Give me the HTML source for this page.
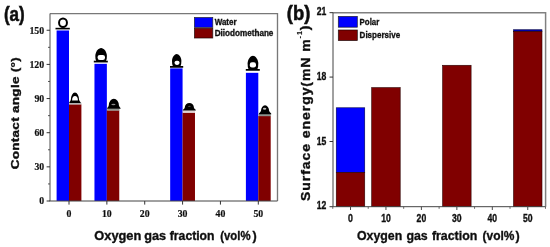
<!DOCTYPE html><html><head><meta charset="utf-8"><title>chart</title>
<style>html,body{margin:0;padding:0;background:#fff;overflow:hidden}svg{display:block}.s{font-family:"Liberation Sans",sans-serif;font-weight:bold;fill:#111;stroke:#111;stroke-width:.35px}.t{font-family:"Liberation Serif",serif;font-weight:bold;fill:#111;stroke:#111;stroke-width:.2px}</style></head><body>
<svg width="550" height="247" viewBox="0 0 550 247">
<defs><filter id="b" x="-5%" y="-5%" width="110%" height="110%"><feGaussianBlur stdDeviation="0.58"/></filter></defs>
<rect width="550" height="247" fill="#fff"/>
<g filter="url(#b)">
<rect x="56.60" y="30.48" width="12.40" height="170.52" fill="#0000ff"/>
<rect x="94.46" y="63.83" width="12.40" height="137.17" fill="#0000ff"/>
<rect x="170.18" y="68.39" width="12.40" height="132.61" fill="#0000ff"/>
<rect x="245.90" y="72.83" width="12.40" height="128.17" fill="#0000ff"/>
<rect x="69.00" y="104.36" width="12.40" height="96.64" fill="#800000"/>
<rect x="106.86" y="110.33" width="12.40" height="90.67" fill="#800000"/>
<rect x="182.58" y="112.55" width="12.40" height="88.45" fill="#800000"/>
<rect x="258.30" y="115.97" width="12.40" height="85.03" fill="#800000"/>
<path d="M50.0 13.6H277.5V201.0" fill="none" stroke="#787878" stroke-width="1.35"/>
<path d="M50.0 13.6V201.0" fill="none" stroke="#6a6a6a" stroke-width="1.2"/>
<path d="M49.5 201.0H277.5" fill="none" stroke="#444" stroke-width="1"/>
<path d="M46.6 201.00H50.0" stroke="#333" stroke-width="1"/>
<text class="t" x="39.30" y="204.30" font-size="10.8" textLength="4.9" lengthAdjust="spacingAndGlyphs">0</text>
<path d="M46.6 166.85H50.0" stroke="#333" stroke-width="1"/>
<text class="t" x="34.40" y="170.15" font-size="10.8" textLength="9.8" lengthAdjust="spacingAndGlyphs">30</text>
<path d="M46.6 132.70H50.0" stroke="#333" stroke-width="1"/>
<text class="t" x="34.40" y="136.00" font-size="10.8" textLength="9.8" lengthAdjust="spacingAndGlyphs">60</text>
<path d="M46.6 98.55H50.0" stroke="#333" stroke-width="1"/>
<text class="t" x="34.40" y="101.85" font-size="10.8" textLength="9.8" lengthAdjust="spacingAndGlyphs">90</text>
<path d="M46.6 64.40H50.0" stroke="#333" stroke-width="1"/>
<text class="t" x="29.40" y="67.70" font-size="10.8" textLength="14.8" lengthAdjust="spacingAndGlyphs">120</text>
<path d="M46.6 30.25H50.0" stroke="#333" stroke-width="1"/>
<text class="t" x="29.40" y="33.55" font-size="10.8" textLength="14.8" lengthAdjust="spacingAndGlyphs">150</text>
<path d="M48.0 183.93H50.0" stroke="#444" stroke-width="0.9"/>
<path d="M48.0 149.78H50.0" stroke="#444" stroke-width="0.9"/>
<path d="M48.0 115.63H50.0" stroke="#444" stroke-width="0.9"/>
<path d="M48.0 81.48H50.0" stroke="#444" stroke-width="0.9"/>
<path d="M48.0 47.33H50.0" stroke="#444" stroke-width="0.9"/>
<path d="M69.00 201.0V204.6" stroke="#333" stroke-width="1"/>
<text class="t" x="66.55" y="216.6" font-size="10.8" textLength="4.9" lengthAdjust="spacingAndGlyphs">0</text>
<path d="M106.86 201.0V204.6" stroke="#333" stroke-width="1"/>
<text class="t" x="101.96" y="216.6" font-size="10.8" textLength="9.8" lengthAdjust="spacingAndGlyphs">10</text>
<path d="M144.72 201.0V204.6" stroke="#333" stroke-width="1"/>
<text class="t" x="139.82" y="216.6" font-size="10.8" textLength="9.8" lengthAdjust="spacingAndGlyphs">20</text>
<path d="M182.58 201.0V204.6" stroke="#333" stroke-width="1"/>
<text class="t" x="177.68" y="216.6" font-size="10.8" textLength="9.8" lengthAdjust="spacingAndGlyphs">30</text>
<path d="M220.44 201.0V204.6" stroke="#333" stroke-width="1"/>
<text class="t" x="215.54" y="216.6" font-size="10.8" textLength="9.8" lengthAdjust="spacingAndGlyphs">40</text>
<path d="M258.30 201.0V204.6" stroke="#333" stroke-width="1"/>
<text class="t" x="253.40" y="216.6" font-size="10.8" textLength="9.8" lengthAdjust="spacingAndGlyphs">50</text>
<ellipse cx="63" cy="22.7" rx="3.95" ry="4.3" fill="#fff" stroke="#000" stroke-width="2"/>
<rect x="55.5" y="27.8" width="14.3" height="1.6" fill="#000"/>
<path d="M95.30 56.00C95.30 51.60 98.66 48.00 101.10 48.00C103.54 48.00 106.90 51.60 106.90 56.00Q106.90 59.50 106.00 61.00L96.20 61.00Q95.30 59.50 95.30 56.00Z" fill="#000"/>
<rect x="97.60" y="54.90" width="7.40" height="5.10" rx="2.2" ry="2.2" fill="#fff"/>
<rect x="93.80" y="60.70" width="14.00" height="1.75" fill="#000"/>
<path d="M172.00 61.00C172.00 57.15 174.73 54.00 176.70 54.00C178.67 54.00 181.40 57.15 181.40 61.00Q181.40 64.80 180.50 66.30L172.90 66.30Q172.00 64.80 172.00 61.00Z" fill="#000"/>
<rect x="174.50" y="60.70" width="5.10" height="4.30" rx="2.2" ry="2.2" fill="#fff"/>
<rect x="170.00" y="66.00" width="13.20" height="1.75" fill="#000"/>
<path d="M247.60 63.50C247.60 59.24 250.70 55.75 252.95 55.75C255.20 55.75 258.30 59.24 258.30 63.50Q258.30 67.80 257.40 69.30L248.50 69.30Q247.60 67.80 247.60 63.50Z" fill="#000"/>
<rect x="249.80" y="62.30" width="6.20" height="5.10" rx="2.2" ry="2.2" fill="#fff"/>
<rect x="245.80" y="69.00" width="14.00" height="1.75" fill="#000"/>
<rect x="69.30" y="102.70" width="12.10" height="1.70" fill="#b4b4b4"/>
<path d="M69.10 102.90L80.80 102.90L80.40 101.90Q79.40 100.90 79.05 99.70A4.10 7.10 0 0 0 70.85 99.70Q70.50 100.90 69.50 101.90Z" fill="#000"/>
<path d="M72.1 100.6A2.9 4.6 0 0 1 77.9 100.6Z" fill="#fff"/>
<rect x="107.20" y="108.60" width="12.20" height="2.00" fill="#909690"/>
<path d="M107.00 108.80L120.70 108.80L120.30 107.80Q119.30 106.80 118.95 105.60A5.10 6.80 0 0 0 108.75 105.60Q108.40 106.80 107.40 107.80Z" fill="#000"/>
<ellipse cx="113.4" cy="104.6" rx="2.1" ry="0.75" fill="#8a8a8a"/>
<rect x="182.90" y="110.40" width="12.10" height="2.40" fill="#e0d4d4"/>
<path d="M182.80 110.60L195.90 110.60L195.50 109.60Q194.25 108.60 193.90 107.40A4.55 4.50 0 0 0 184.80 107.40Q184.45 108.60 183.20 109.60Z" fill="#000"/>
<ellipse cx="189.4" cy="106.4" rx="1.3" ry="0.7" fill="#4a4a4a"/>
<rect x="258.60" y="114.00" width="12.20" height="2.20" fill="#8c928c"/>
<path d="M258.70 114.20L271.40 114.20L271.00 113.20Q269.45 112.20 269.10 110.80A4.05 5.50 0 0 0 261.00 110.80Q260.65 112.20 259.10 113.20Z" fill="#000"/>
<ellipse cx="264.6" cy="108.7" rx="1.7" ry="0.95" fill="#bbb"/>
<rect x="194.4" y="17.5" width="18.4" height="9.8" fill="#0000ff" stroke="#223" stroke-width="0.7"/>
<rect x="194.4" y="28.1" width="18.4" height="9.9" fill="#800000" stroke="#211" stroke-width="0.7"/>
<text class="s" x="214.7" y="25.1" font-size="8.8" textLength="21.8" lengthAdjust="spacingAndGlyphs">Water</text>
<text class="s" x="214.7" y="35.9" font-size="8.8" textLength="58.7" lengthAdjust="spacingAndGlyphs">Diiodomethane</text>
<text class="s" style="stroke-width:.55px" x="3.9" y="20.6" font-size="19.5" textLength="20.8" lengthAdjust="spacingAndGlyphs">(a)</text>
<text class="s" x="94.30" y="239.9" font-size="12" textLength="47.00" lengthAdjust="spacingAndGlyphs">Oxygen</text>
<text class="s" x="144.20" y="239.9" font-size="12" textLength="21.80" lengthAdjust="spacingAndGlyphs">gas</text>
<text class="s" x="169.80" y="239.9" font-size="12" textLength="44.70" lengthAdjust="spacingAndGlyphs">fraction</text>
<text class="s" x="220.30" y="239.9" font-size="12" textLength="30.20" lengthAdjust="spacingAndGlyphs">(vol%</text>
<text class="s" x="252.40" y="239.9" font-size="12" textLength="4.20" lengthAdjust="spacingAndGlyphs">)</text>
<text class="s" transform="translate(18.7 169.3) rotate(-90) scale(1.3 1)" font-size="10.4" textLength="86.2" lengthAdjust="spacing">Contact angle (°)</text>
<rect x="336.25" y="107.78" width="28.5" height="64.62" fill="#0000ff" stroke="#00004a" stroke-width="0.6"/>
<rect x="336.25" y="172.41" width="28.5" height="34.29" fill="#800000" stroke="#2a0000" stroke-width="0.6"/>
<rect x="371.70" y="87.60" width="28.5" height="119.10" fill="#800000" stroke="#2a0000" stroke-width="0.6"/>
<rect x="442.60" y="65.27" width="28.5" height="141.43" fill="#800000" stroke="#2a0000" stroke-width="0.6"/>
<rect x="513.50" y="29.74" width="28.5" height="1.72" fill="#0000a8" stroke="#00004a" stroke-width="0.6"/>
<rect x="513.50" y="31.46" width="28.5" height="175.24" fill="#800000" stroke="#2a0000" stroke-width="0.6"/>
<path d="M333.0 12.65H545.6V206.7" fill="none" stroke="#808080" stroke-width="1.5"/>
<path d="M333.0 12.65V206.7H545.6" fill="none" stroke="#444" stroke-width="1"/>
<path d="M329.5 206.70H333.0" stroke="#333" stroke-width="1"/>
<text class="s" x="316.8" y="209.00" font-size="10.3" textLength="9.6" lengthAdjust="spacingAndGlyphs">12</text>
<path d="M329.5 141.49H333.0" stroke="#333" stroke-width="1"/>
<text class="s" x="316.8" y="144.59" font-size="10.3" textLength="9.6" lengthAdjust="spacingAndGlyphs">15</text>
<path d="M329.5 77.08H333.0" stroke="#333" stroke-width="1"/>
<text class="s" x="316.8" y="80.18" font-size="10.3" textLength="9.6" lengthAdjust="spacingAndGlyphs">18</text>
<path d="M329.5 12.67H333.0" stroke="#333" stroke-width="1"/>
<text class="s" x="316.8" y="14.77" font-size="10.3" textLength="9.6" lengthAdjust="spacingAndGlyphs">21</text>
<path d="M350.50 206.7V210.0" stroke="#4a4a4a" stroke-width="1"/>
<text class="s" x="348.05" y="222.1" font-size="10.3" textLength="4.9" lengthAdjust="spacingAndGlyphs">0</text>
<path d="M385.95 206.7V210.0" stroke="#4a4a4a" stroke-width="1"/>
<text class="s" x="381.15" y="222.1" font-size="10.3" textLength="9.6" lengthAdjust="spacingAndGlyphs">10</text>
<path d="M421.40 206.7V210.0" stroke="#4a4a4a" stroke-width="1"/>
<text class="s" x="416.60" y="222.1" font-size="10.3" textLength="9.6" lengthAdjust="spacingAndGlyphs">20</text>
<path d="M456.85 206.7V210.0" stroke="#4a4a4a" stroke-width="1"/>
<text class="s" x="452.05" y="222.1" font-size="10.3" textLength="9.6" lengthAdjust="spacingAndGlyphs">30</text>
<path d="M492.30 206.7V210.0" stroke="#4a4a4a" stroke-width="1"/>
<text class="s" x="487.50" y="222.1" font-size="10.3" textLength="9.6" lengthAdjust="spacingAndGlyphs">40</text>
<path d="M527.75 206.7V210.0" stroke="#4a4a4a" stroke-width="1"/>
<text class="s" x="522.95" y="222.1" font-size="10.3" textLength="9.6" lengthAdjust="spacingAndGlyphs">50</text>
<path d="M332.77 206.7V208.79999999999998" stroke="#555" stroke-width="0.9"/>
<path d="M368.23 206.7V208.79999999999998" stroke="#555" stroke-width="0.9"/>
<path d="M403.68 206.7V208.79999999999998" stroke="#555" stroke-width="0.9"/>
<path d="M439.12 206.7V208.79999999999998" stroke="#555" stroke-width="0.9"/>
<path d="M474.57 206.7V208.79999999999998" stroke="#555" stroke-width="0.9"/>
<path d="M510.02 206.7V208.79999999999998" stroke="#555" stroke-width="0.9"/>
<path d="M545.48 206.7V208.79999999999998" stroke="#555" stroke-width="0.9"/>
<rect x="338.3" y="16.4" width="19" height="10.8" fill="#0000ff" stroke="#223" stroke-width="0.7"/>
<rect x="338.3" y="30.0" width="19" height="10.6" fill="#800000" stroke="#211" stroke-width="0.7"/>
<text class="s" x="359.6" y="24.8" font-size="9.8" textLength="19.7" lengthAdjust="spacingAndGlyphs">Polar</text>
<text class="s" x="359.6" y="38.4" font-size="9.8" textLength="40.6" lengthAdjust="spacingAndGlyphs">Dispersive</text>
<text class="s" style="stroke-width:.55px" x="286.8" y="20.4" font-size="19.5" textLength="23.5" lengthAdjust="spacingAndGlyphs">(b)</text>
<text class="s" x="357.00" y="240.3" font-size="13" textLength="45.20" lengthAdjust="spacingAndGlyphs">Oxygen</text>
<text class="s" x="406.40" y="240.3" font-size="13" textLength="21.30" lengthAdjust="spacingAndGlyphs">gas</text>
<text class="s" x="431.90" y="240.3" font-size="13" textLength="45.40" lengthAdjust="spacingAndGlyphs">fraction</text>
<text class="s" x="482.50" y="240.3" font-size="13" textLength="31.90" lengthAdjust="spacingAndGlyphs">(vol%</text>
<text class="s" x="515.60" y="240.3" font-size="13" textLength="4.20" lengthAdjust="spacingAndGlyphs">)</text>
<text class="s" transform="translate(310.2 200.9) rotate(-90) scale(1.14 1)" font-size="12.3" textLength="153.9" lengthAdjust="spacing">Surface energy(mN m<tspan font-size="6.3" dy="-8.2" style="stroke-width:.15px">-1</tspan><tspan dy="7.3">)</tspan></text>
</g></svg></body></html>
